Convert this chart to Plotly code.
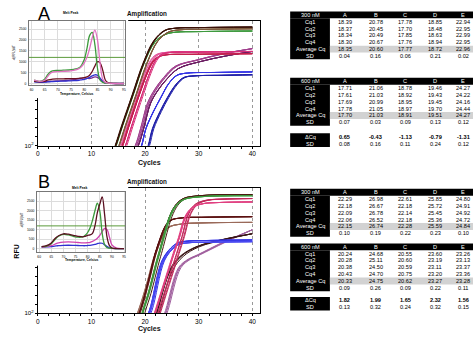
import plotly.graph_objects as go

W, H = 474, 339
FONT = "Liberation Sans, Arial, sans-serif"

# ---------------- data ----------------
COLS = ["A", "B", "C", "D", "E"]
ROWS = ["Cq1", "Cq2", "Cq3", "Cq4"]

A300_CQ = [[18.39, 20.78, 17.78, 18.85, 22.94],
           [18.37, 20.45, 17.70, 18.48, 22.95],
           [18.34, 20.49, 17.85, 18.63, 22.99],
           [18.30, 20.67, 17.76, 18.94, 22.95]]
A300_AVG = [18.35, 20.60, 17.77, 18.72, 22.96]
A300_SD = [0.04, 0.16, 0.06, 0.21, 0.02]
A600_CQ = [[17.71, 21.06, 18.78, 19.46, 24.27],
           [17.61, 21.03, 18.92, 19.43, 24.22],
           [17.69, 20.99, 18.95, 19.45, 24.16],
           [17.78, 21.05, 18.97, 19.70, 24.44]]
A600_AVG = [17.70, 21.03, 18.91, 19.51, 24.27]
A600_SD = [0.07, 0.03, 0.09, 0.13, 0.12]
A_DCQ = [0.65, -0.43, -1.13, -0.79, -1.31]
A_DCQ_SD = [0.08, 0.16, 0.11, 0.24, 0.12]

B300_CQ = [[22.29, 26.98, 22.61, 25.85, 24.80],
           [22.18, 26.67, 22.18, 25.72, 24.91],
           [22.09, 26.78, 22.14, 25.45, 24.92],
           [22.06, 26.52, 22.18, 25.36, 24.72]]
B300_AVG = [22.15, 26.74, 22.28, 25.59, 24.84]
B300_SD = [0.10, 0.19, 0.22, 0.23, 0.10]
B600_CQ = [[20.24, 24.68, 20.55, 23.60, 23.26],
           [20.28, 25.11, 20.60, 23.19, 23.13],
           [20.38, 24.50, 20.59, 23.11, 23.37],
           [20.43, 24.70, 20.75, 23.20, 23.36]]
B600_AVG = [20.33, 24.75, 20.62, 23.27, 23.28]
B600_SD = [0.09, 0.26, 0.09, 0.22, 0.11]
B_DCQ = [1.82, 1.99, 1.65, 2.32, 1.56]
B_DCQ_SD = [0.13, 0.32, 0.24, 0.32, 0.15]

# amplification curve profiles:
# cycles relative to each replicate's Cq, and log10(RFU)
PA_TOP_OFF = [-4.0, -3.2, -2.0, 0.0, 2.0, 4.0, 6.0, 8.0, 12.0, 24.0]
PA_GREEN = [1.8, 2.0, 2.35, 2.9, 3.45, 3.82, 3.96, 4.00, 4.01, 4.02]
PA_BROWN = [1.8, 2.0, 2.35, 2.9, 3.45, 3.85, 4.03, 4.07, 4.08, 4.09]
PA_TAN = [1.8, 2.0, 2.35, 2.9, 3.45, 3.84, 4.00, 4.04, 4.05, 4.06]
PA_PINK_OFF = [-4.0, -3.1, -2.0, 0.0, 1.5, 2.5, 3.5, 5.0, 10.0, 24.0]
PA_PINK = [1.8, 2.0, 2.33, 2.9, 3.3, 3.5, 3.6, 3.64, 3.65, 3.66]
PA_CRIMSON = [1.8, 2.0, 2.33, 2.9, 3.28, 3.47, 3.56, 3.6, 3.61, 3.62]
PA_PURPLE_OFF = [-3.5, -2.3, -1.3, 0.0, 1.4, 3.0, 5.2, 9.2, 14.0, 20.0]
PA_PURPLE = [1.8, 2.0, 2.3, 2.75, 3.0, 3.2, 3.4, 3.51, 3.62, 3.71]
PA_PURPLE2 = [1.8, 2.0, 2.3, 2.75, 2.98, 3.17, 3.36, 3.48, 3.58, 3.66]
PA_BLUE_OFF = [-4.5, -3.6, -2.8, -1.4, 0.0, 1.5, 3.0, 5.0, 10.0, 19.0]
PA_BLUE = [1.8, 2.0, 2.3, 2.6, 2.85, 3.1, 3.24, 3.28, 3.29, 3.30]
PA_BLUE2 = [1.8, 2.0, 2.3, 2.6, 2.85, 3.07, 3.2, 3.23, 3.24, 3.25]

PB_TOP_OFF = [-3.5, -2.5, -1.5, 0.0, 0.6, 1.5, 2.4, 3.5, 5.0, 8.0, 19.0]
PB_GREEN = [1.7, 2.05, 2.35, 2.9, 3.1, 3.4, 3.68, 3.88, 4.0, 4.05, 4.07]
PB_BROWN = [1.7, 2.05, 2.35, 2.9, 3.1, 3.42, 3.7, 3.9, 4.02, 4.07, 4.09]
PB_CRIM_OFF = [-4.0, -3.0, -1.5, 0.0, 0.5, 1.5, 2.7, 4.0, 6.0, 9.0, 17.0]
PB_CRIMSON = [1.7, 2.0, 2.45, 2.9, 3.05, 3.35, 3.75, 3.92, 3.99, 4.01, 4.02]
PB_PINK = [1.7, 2.0, 2.45, 2.9, 3.05, 3.33, 3.7, 3.86, 3.93, 3.95, 3.96]
PB_MID_OFF = [-2.5, -1.3, 0.0, 1.8, 3.9, 6.4, 10.0, 21.0]
PB_MAROON = [1.8, 2.1, 2.55, 3.2, 3.62, 3.68, 3.69, 3.70]
PB_TAN = [1.8, 2.1, 2.5, 3.1, 3.5, 3.57, 3.59, 3.60]
PB_BLUE_OFF = [-3.5, -2.3, 0.0, 1.7, 3.0, 4.7, 8.0, 18.0]
PB_BLUE = [1.8, 2.05, 2.92, 3.15, 3.24, 3.27, 3.28, 3.29]
PB_BLUE2 = [1.8, 2.05, 2.9, 3.12, 3.21, 3.24, 3.25, 3.26]
PB_SLOW_OFF = [-4.0, -2.7, -0.3, 1.5, 3.3, 8.0, 13.5]
PB_MAUVE = [1.7, 2.05, 2.8, 2.95, 3.03, 3.25, 3.47]
PB_DARK_OFF = [-3.5, -2.5, 0.0, 2.0, 5.0, 10.0, 15.5]
PB_DARK = [1.7, 2.0, 2.75, 3.0, 3.17, 3.3, 3.40]
LAST_CYCLE = 40

# melt-peak insets: temperature (deg C) and -d(RFU)/dT
MELT_T = [61, 63, 65, 66, 67, 68, 70, 72, 74, 76, 78, 79, 80, 81, 82, 83, 84,
          85, 86, 87, 88, 89, 90, 92, 95]
MA_GREEN = [150, 100, 200, 380, 520, 580, 600, 610, 620, 650, 720, 850, 1100,
            1600, 2200, 2350, 1800, 700, 150, 50, 20, 10, 5, 0, 0]
MA_PINK = [150, 100, 150, 300, 450, 520, 550, 560, 570, 600, 680, 780, 950,
           1200, 1600, 2100, 2450, 2000, 900, 200, 50, 20, 10, 0, 0]
MA_BROWN = [100, 80, 100, 150, 180, 200, 210, 215, 220, 225, 240, 250, 270,
            300, 380, 550, 800, 1000, 950, 600, 150, 40, 20, 0, 0]
MA_BLUE = [80, 60, 60, 70, 80, 90, 100, 110, 120, 130, 150, 170, 190, 230,
           280, 350, 400, 380, 250, 100, 30, 10, 5, 0, 0]
MA_PURPLE = [100, 80, 80, 90, 100, 110, 120, 130, 150, 180, 220, 250, 260,
             240, 230, 260, 300, 280, 180, 80, 20, 10, 5, 0, 0]
MB_GREEN = [100, 120, 250, 400, 550, 650, 750, 720, 650, 600, 620, 700, 850,
            1100, 1500, 2000, 2400, 2000, 800, 200, 50, 20, 10, 0, 0]
MB_BROWN = [100, 150, 300, 450, 580, 680, 780, 760, 700, 650, 620, 650, 700,
            720, 800, 1200, 1900, 2350, 2740, 1800, 600, 150, 30, 0, 0]
MB_PINK = [80, 100, 150, 200, 260, 300, 340, 350, 340, 320, 300, 300, 310,
           330, 380, 450, 550, 700, 900, 1070, 1000, 600, 200, 20, 0]
MB_BLUE = [80, 90, 100, 120, 140, 150, 170, 175, 170, 160, 150, 150, 160,
           170, 190, 220, 260, 290, 280, 200, 100, 40, 10, 0, 0]
MELT_THRESHOLD = 1200

# ---------------- layout helpers ----------------
def px(x):
    return x / W


def py(y):
    return 1 - y / H


fig = go.Figure()
shapes = []
annotations = []


def text(x, y, s, size=5.5, color="black", bold=False, xanchor="center",
         angle=0):
    if bold:
        s = "<b>" + s + "</b>"
    annotations.append(dict(x=px(x), y=py(y), xref="paper", yref="paper",
                            text=s, showarrow=False, xanchor=xanchor,
                            yanchor="middle", textangle=angle,
                            font=dict(family=FONT, size=size, color=color)))


def rect(x0, y0, x1, y1, color):
    shapes.append(dict(type="rect", xref="paper", yref="paper",
                       x0=px(x0), x1=px(x1), y0=py(y1), y1=py(y0),
                       fillcolor=color, line=dict(width=0), layer="above"))


# ---------------- amplification curves ----------------
def add_group(cq_table, col, offs, logs, color, ax):
    for row in cq_table:
        cq = row[col]
        xs, ys = [], []
        for o, l in zip(offs, logs):
            if cq + o < LAST_CYCLE:
                xs.append(cq + o)
                ys.append(10 ** l)
            else:
                xs.append(LAST_CYCLE)
                ys.append(10 ** l)
                break
        fig.add_trace(go.Scatter(
            x=xs, y=ys, mode="lines",
            line=dict(color=color, width=1, shape="spline"),
            xaxis="x" + ax, yaxis="y" + ax, showlegend=False,
            hoverinfo="skip"))


# panel A (axis "" -> x / y)
add_group(A300_CQ, 1, PA_PURPLE_OFF, PA_PURPLE, "#a0408e", "")
add_group(A600_CQ, 1, PA_PURPLE_OFF, PA_PURPLE2, "#6c1f63", "")
add_group(A300_CQ, 4, PA_BLUE_OFF, PA_BLUE, "#3535e6", "")
add_group(A600_CQ, 4, PA_BLUE_OFF, PA_BLUE2, "#2020a8", "")
add_group(A300_CQ, 3, PA_PINK_OFF, PA_PINK, "#e2559a", "")
add_group(A600_CQ, 2, PA_PINK_OFF, PA_CRIMSON, "#c4204e", "")
add_group(A600_CQ, 3, PA_PINK_OFF, PA_PINK, "#d8307a", "")
add_group(A300_CQ, 2, PA_TOP_OFF, PA_GREEN, "#3f9a3f", "")
add_group(A300_CQ, 0, PA_TOP_OFF, PA_TAN, "#7d5a3c", "")
add_group(A600_CQ, 0, PA_TOP_OFF, PA_BROWN, "#3a1208", "")

# panel B (axis "2")
add_group(B300_CQ, 1, PB_SLOW_OFF, PB_MAUVE, "#a0609e", "2")
add_group(B600_CQ, 1, PB_DARK_OFF, PB_DARK, "#3a1616", "2")
add_group(B600_CQ, 3, PB_BLUE_OFF, PB_BLUE, "#3535e6", "2")
add_group(B600_CQ, 4, PB_BLUE_OFF, PB_BLUE2, "#4848f0", "2")
add_group(B600_CQ, 0, PB_MID_OFF, PB_TAN, "#9a6a5a", "2")
add_group(B600_CQ, 2, PB_MID_OFF, PB_MAROON, "#5a1010", "2")
add_group(B300_CQ, 3, PB_CRIM_OFF, PB_CRIMSON, "#c0285a", "2")
add_group(B300_CQ, 4, PB_CRIM_OFF, PB_PINK, "#e04080", "2")
add_group(B300_CQ, 2, PB_TOP_OFF, PB_BROWN, "#4a1a10", "2")
add_group(B300_CQ, 0, PB_TOP_OFF, PB_GREEN, "#3f9a3f", "2")

# blockers (white backgrounds behind the insets)
for ax in ("3", "4"):
    fig.add_trace(go.Scatter(x=[None], y=[None], xaxis="x" + ax,
                             yaxis="y" + ax, showlegend=False))


# ---------------- melt-peak insets ----------------
def melt(vals, color, ax, width=1.3):
    fig.add_trace(go.Scatter(x=MELT_T, y=vals, mode="lines",
                             line=dict(color=color, width=width,
                                       shape="spline"),
                             xaxis="x" + ax, yaxis="y" + ax,
                             showlegend=False, hoverinfo="skip"))


for ax in ("5", "6"):
    fig.add_trace(go.Scatter(x=[59, 95.5], y=[MELT_THRESHOLD] * 2,
                             mode="lines", line=dict(color="#5a9a3a", width=1),
                             xaxis="x" + ax, yaxis="y" + ax, showlegend=False))

melt(MA_PURPLE, "#7a3090", "5")
melt(MA_BLUE, "#3030d0", "5")
melt(MA_BROWN, "#6a1020", "5")
melt(MA_GREEN, "#3c9a3c", "5")
melt(MA_PINK, "#e070c0", "5")

melt(MB_BLUE, "#3030d0", "6")
melt(MB_PINK, "#d040b0", "6")
melt(MB_GREEN, "#3c9a3c", "6")
melt(MB_BROWN, "#5a1020", "6")

# ---------------- axes ----------------
def main_x():
    return dict(domain=[px(36), px(260)], range=[0, 41.5],
                tickvals=[0, 10, 20, 30, 40], ticks="outside", ticklen=2,
                tickcolor="black", showline=True, mirror=True,
                linecolor="black", linewidth=1, showgrid=True,
                gridcolor="#999", griddash="dot", gridwidth=1,
                zeroline=False,
                minor=dict(dtick=2, ticks="outside", ticklen=2,
                           tickcolor="black", showgrid=False),
                tickfont=dict(family=FONT, size=6.5, color="black"))


YTICKS = [10 ** (2 + 0.16 * k) for k in range(14)]
YTEXT = ["10<sup>2</sup>"] + [""] * 13


def main_y(dom, anchor):
    return dict(domain=[py(dom[1]), py(dom[0])], type="log", range=[2, 4.2],
                tickvals=YTICKS, ticktext=YTEXT, ticks="outside", ticklen=2,
                tickcolor="black", showline=True, mirror=True,
                linecolor="black", linewidth=1, showgrid=False,
                zeroline=False, anchor=anchor,
                tickfont=dict(family=FONT, size=6, color="black"))


def hidden(dom_x, dom_y, anchor):
    return (dict(domain=[px(dom_x[0]), px(dom_x[1])], visible=False,
                 range=[0, 1], anchor="y" + anchor),
            dict(domain=[py(dom_y[1]), py(dom_y[0])], visible=False,
                 range=[0, 1], anchor="x" + anchor))


def inset_x(dom, anchor):
    return dict(domain=[px(dom[0]), px(dom[1])], range=[59, 95.5],
                tickvals=[60, 65, 70, 75, 80, 85, 90, 95], ticks="",
                showline=True, mirror=True, linecolor="#777", linewidth=0.6,
                showgrid=True, gridcolor="#dcdcdc", gridwidth=0.6,
                zeroline=False, anchor=anchor, ticklabelstandoff=1,
                tickfont=dict(family=FONT, size=3.3, color="black"))


def inset_y(dom, rng, anchor):
    return dict(domain=[py(dom[1]), py(dom[0])], range=rng,
                tickvals=[0, 500, 1000, 1500, 2000, 2500], ticks="",
                showline=True, mirror=True, linecolor="#777", linewidth=0.6,
                showgrid=True, gridcolor="#dcdcdc", gridwidth=0.6,
                zeroline=False, anchor=anchor, ticklabelstandoff=1,
                tickfont=dict(family=FONT, size=3.3, color="black"))


bx3, by3 = hidden([3, 127], [6, 99], "3")
bx4, by4 = hidden([3, 127], [184, 268], "4")

fig.update_layout(
    width=W, height=H, margin=dict(l=0, r=0, t=0, b=0),
    paper_bgcolor="white", plot_bgcolor="white",
    font=dict(family=FONT, color="black"),
    xaxis=dict(main_x(), anchor="y"), yaxis=main_y([21, 147], "x"),
    xaxis2=dict(main_x(), anchor="y2"), yaxis2=main_y([190, 316], "x2"),
    xaxis3=bx3, yaxis3=by3, xaxis4=bx4, yaxis4=by4,
    xaxis5=inset_x([27, 124], "y5"), yaxis5=inset_y([21, 86], [-80, 2880], "x5"),
    xaxis6=inset_x([35, 124], "y6"), yaxis6=inset_y([194, 254], [-170, 2980], "x6"),
)

# ---------------- texts ----------------
text(42, 14, "A", size=18)
text(42, 184, "B", size=18)
for yt, yc in ((14, 164), (184, 332)):
    text(146, yt, "Amplification", size=6.3, bold=True, color="#111111")
    text(148, yc, "Cycles", size=7, bold=True, color="#111111")
text(15, 254, "RFU", size=7, bold=True, angle=-90)

# inset labels
text(69, 13.5, "Melt Peak", size=3.3, bold=True)
text(75, 95, "Temperature, Celsius", size=3.3, bold=True)
text(12, 53, "-d(RFU)/dT", size=3, angle=-90)
text(78, 189.5, "Melt Peak", size=3.3, bold=True)
text(80, 262, "Temperature, Celsius", size=3.3, bold=True)
text(20, 222, "-d(RFU)/dT", size=3, angle=-90)

# ---------------- tables ----------------
TAB_LEFT, LABEL_RIGHT, TAB_RIGHT = 290, 330, 474
LABEL_CX = 310
COL_X = [345, 376, 406, 436, 464]
ROW_H = 6.9
TFS = 5.6


def fmt(v):
    return "%.2f" % v


def table(top, header, cq, avg, sd):
    yc = [top + i * ROW_H for i in range(7)]
    rect(TAB_LEFT, yc[0] - ROW_H / 2, TAB_RIGHT, yc[0] + ROW_H / 2, "black")
    rect(TAB_LEFT, yc[1] - ROW_H / 2, LABEL_RIGHT, yc[6] + ROW_H / 2, "black")
    rect(LABEL_RIGHT, yc[5] - ROW_H / 2, TAB_RIGHT, yc[5] + ROW_H / 2,
         "#d2d2d2")
    labels = [header] + ROWS + ["Average Cq", "SD"]
    for i, lab in enumerate(labels):
        text(LABEL_CX, yc[i], lab, size=TFS, color="white")
    for j, c in enumerate(COLS):
        text(COL_X[j], yc[0], c, size=TFS, color="white")
    rows = cq + [avg, sd]
    for i, r in enumerate(rows):
        for j, v in enumerate(r):
            text(COL_X[j], yc[i + 1], fmt(v), size=TFS)


def dtable(top, dcq, dsd):
    yc = [top, top + ROW_H]
    rect(TAB_LEFT, yc[0] - ROW_H / 2, LABEL_RIGHT, yc[1] + ROW_H / 2, "black")
    text(LABEL_CX, yc[0], "ΔCq", size=TFS, color="white")
    text(LABEL_CX, yc[1], "SD", size=TFS, color="white")
    for j in range(5):
        text(COL_X[j], yc[0], fmt(dcq[j]), size=TFS, bold=True)
        text(COL_X[j], yc[1], fmt(dsd[j]), size=TFS)


table(15, "300 nM", A300_CQ, A300_AVG, A300_SD)
table(82, "600 nM", A600_CQ, A600_AVG, A600_SD)
dtable(138, A_DCQ, A_DCQ_SD)
table(194, "300 nM", B300_CQ, B300_AVG, B300_SD)
table(249, "600 nM", B600_CQ, B600_AVG, B600_SD)
dtable(303, B_DCQ, B_DCQ_SD)

fig.update_layout(shapes=shapes, annotations=annotations)
fig.write_html("out.html")
